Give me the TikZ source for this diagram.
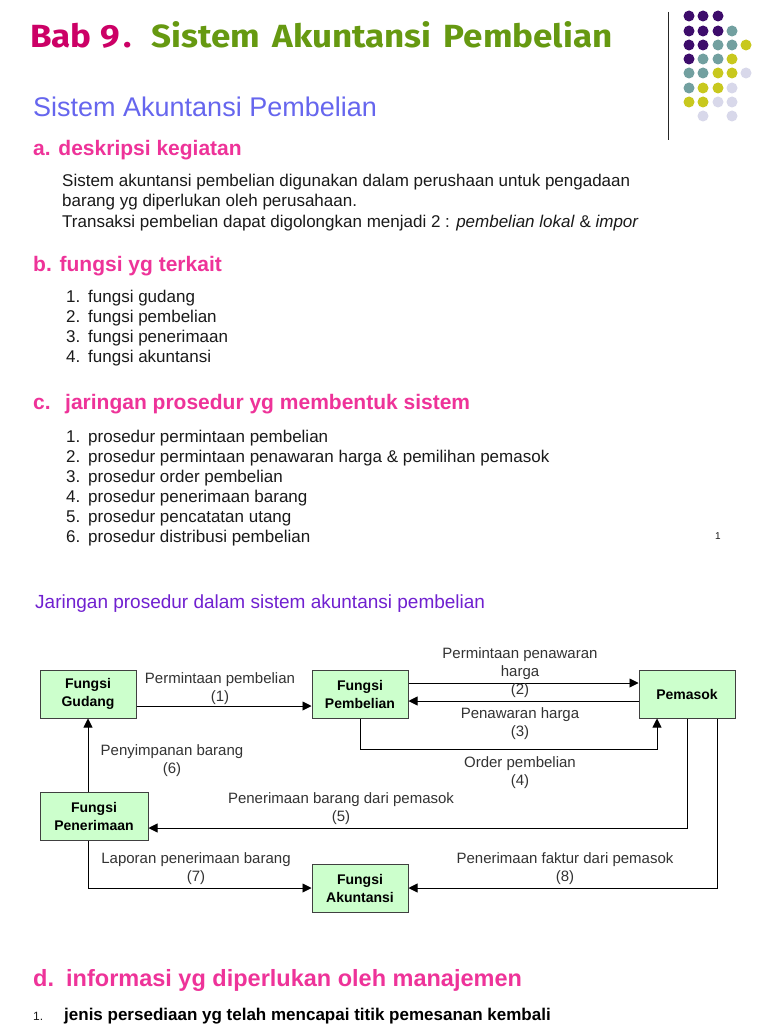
\documentclass[tikz,border=0pt]{standalone}
\usepackage{fontspec}
\setmainfont{Liberation Sans}
\newfontfamily\titlefont{Fira Sans}
\usetikzlibrary{arrows.meta}
\definecolor{titlepink}{HTML}{CC0066}
\definecolor{titlegreen}{HTML}{669911}
\definecolor{subblue}{HTML}{6666EE}
\definecolor{headpink}{HTML}{EE3399}
\definecolor{netpurple}{HTML}{7020D0}
\definecolor{bodytext}{HTML}{1A1A1A}
\definecolor{lblgray}{HTML}{333333}
\definecolor{boxgreen}{HTML}{CCFFCC}
\definecolor{dotpurple}{HTML}{3D0C6B}
\definecolor{dotteal}{HTML}{72A0A0}
\definecolor{dotyellow}{HTML}{C8C81E}
\definecolor{dotlav}{HTML}{D8D8EA}
\tikzset{
  box/.style={draw=black!75, fill=boxgreen, line width=1pt, minimum width=96pt, minimum height=48pt, inner sep=0pt, align=center, font=\fontsize{14}{18}\selectfont\bfseries},
  lbl/.style={align=center, inner sep=0pt, anchor=base, text=lblgray, font=\fontsize{15}{18}\selectfont},
  arr/.style={line width=0.9pt, draw=black, -{Triangle[length=9pt,width=9pt]}},
  body/.style={anchor=base west, inner sep=0pt, text=bodytext, font=\fontsize{17}{20}\selectfont},
  head/.style={anchor=base west, inner sep=0pt, text=headpink, font=\fontsize{21}{24}\selectfont\bfseries},
}
\begin{document}
\begin{tikzpicture}[x=1pt,y=-1pt]
\useasboundingbox (0,0) rectangle (768,1024);
\fill[white] (0,0) rectangle (768,1024);

% title
\node[anchor=base west, inner sep=0pt] (title) at (30,48)
  {\resizebox{582pt}{26pt}{\titlefont\bfseries\textcolor{titlepink}{Bab 9\hspace{0.12em}.}\hspace{0.55em}\textcolor{titlegreen}{Sistem\hspace{0.35em}Akuntansi\hspace{0.35em}Pembelian}}};

% decoration: vertical rule and dots
\draw[line width=1pt, black!85] (668,12) -- (668,140);
\foreach \c/\x/\y in {
  dotpurple/689/16, dotpurple/703/16, dotpurple/718/16,
  dotpurple/689/31, dotpurple/703/31, dotpurple/718/31, dotteal/732/31,
  dotpurple/689/45, dotpurple/703/45, dotteal/718/45, dotteal/732/45, dotyellow/746/45,
  dotpurple/689/59, dotteal/703/59, dotteal/718/59, dotyellow/732/59,
  dotteal/689/73, dotteal/703/73, dotyellow/718/73, dotyellow/732/73, dotlav/746/73,
  dotteal/689/88, dotyellow/703/88, dotyellow/718/88, dotlav/732/88,
  dotyellow/689/102, dotyellow/703/102, dotlav/718/102, dotlav/732/102,
  dotlav/703/116, dotlav/732/116}
  \fill[\c] (\x,\y) circle (5.5);

% subtitle
\node[anchor=base west, inner sep=0pt, text=subblue, font=\fontsize{27}{30}\selectfont] (sub) at (33,117) {Sistem Akuntansi Pembelian};

% a
\node[head] (ha) at (33,156) {a. deskripsi kegiatan};
\node[body] (a1) at (62,187) {Sistem akuntansi pembelian digunakan dalam perushaan untuk pengadaan};
\node[body] (a2) at (62,207) {barang yg diperlukan oleh perusahaan.};
\node[body] (a3) at (62,228) {Transaksi pembelian dapat digolongkan menjadi 2 : \textit{pembelian lokal} \& \textit{impor}};

% b
\node[head] (hb) at (33,271) {b. fungsi yg terkait};
\foreach \n/\t/\y in {1/fungsi gudang/302, 2/fungsi pembelian/322, 3/fungsi penerimaan/342, 4/fungsi akuntansi/362}{
  \node[body] (bn\n) at (66,\y) {\n.};
  \node[body] (bt\n) at (88,\y) {\t};
}

% c
\node[head] (hc) at (33,409) {c.};
\node[head] (hct) at (65,409) {jaringan prosedur yg membentuk sistem};
\foreach \n/\t/\y in {1/prosedur permintaan pembelian/442, 2/prosedur permintaan penawaran harga \& pemilihan pemasok/462, 3/prosedur order pembelian/482, 4/prosedur penerimaan barang/502, 5/prosedur pencatatan utang/522, 6/prosedur distribusi pembelian/542}{
  \node[body] (cn\n) at (66,\y) {\n.};
  \node[body] (ct\n) at (88,\y) {\t};
}
\node[anchor=base, inner sep=0pt, text=bodytext, font=\fontsize{10}{12}\selectfont] (pg) at (718,539) {1};

% diagram title
\node[anchor=base west, inner sep=0pt, text=netpurple, font=\fontsize{19}{22}\selectfont] (jt) at (35,608) {Jaringan prosedur dalam sistem akuntansi pembelian};

% boxes
\node[box] (gud) at (88,694) {Fungsi\\Gudang};
\node[box] (pemb) at (360,694) {Fungsi\\Pembelian};
\node[box] (pema) at (687,694) {Pemasok};
\node[box, minimum width=108pt] (pene) at (94,816) {Fungsi\\Penerimaan};
\node[box] (akun) at (360,888) {Fungsi\\Akuntansi};

% connectors
\draw[arr] ([yshift=-12pt]gud.east) -- ([yshift=-12pt]pemb.west);
\draw[arr] ([yshift=11pt]pemb.east) -- ([yshift=11pt]pema.west);
\draw[arr] ([yshift=-7pt]pema.west) -- ([yshift=-7pt]pemb.east);
\draw[arr] (pemb.south) -- ++(0,31) -| ([xshift=-30pt]pema.south);
\draw[arr] (pema.south) |- ([yshift=-12pt]pene.east);
\draw[arr] (pene.north -| gud.south) -- (gud.south);
\draw[arr] (pene.south -| gud.south) |- (akun.west);
\draw[arr] ([xshift=30pt]pema.south) |- (akun.east);

% labels (anchor base = baseline of last line)
\node[lbl] (l1) at (220,701) {Permintaan pembelian\\(1)};
\node[lbl] (l2) at (520,694) {Permintaan penawaran\\harga\\(2)};
\node[lbl] (l3) at (520,736) {Penawaran harga\\(3)};
\node[lbl] (l4) at (520,785) {Order pembelian\\(4)};
\node[lbl] (l5) at (341,821) {Penerimaan barang dari pemasok\\(5)};
\node[lbl] (l6) at (172,773) {Penyimpanan barang\\(6)};
\node[lbl] (l7) at (196,881) {Laporan penerimaan barang\\(7)};
\node[lbl] (l8) at (565,881) {Penerimaan faktur dari pemasok\\(8)};

% d
\node[anchor=base west, inner sep=0pt, text=headpink, font=\fontsize{23.5}{26}\selectfont\bfseries] (hd) at (33,986) {d.};
\node[anchor=base west, inner sep=0pt, text=headpink, font=\fontsize{23.5}{26}\selectfont\bfseries] (hdt) at (66,986) {informasi yg diperlukan oleh manajemen};
\node[anchor=base west, inner sep=0pt, text=bodytext, font=\fontsize{12}{14}\selectfont] (dn1) at (33,1020) {1.};
\node[anchor=base west, inner sep=0pt, text=black, font=\fontsize{17}{20}\selectfont\bfseries] (dt1) at (64,1020) {jenis persediaan yg telah mencapai titik pemesanan kembali};
\end{tikzpicture}
\end{document}
